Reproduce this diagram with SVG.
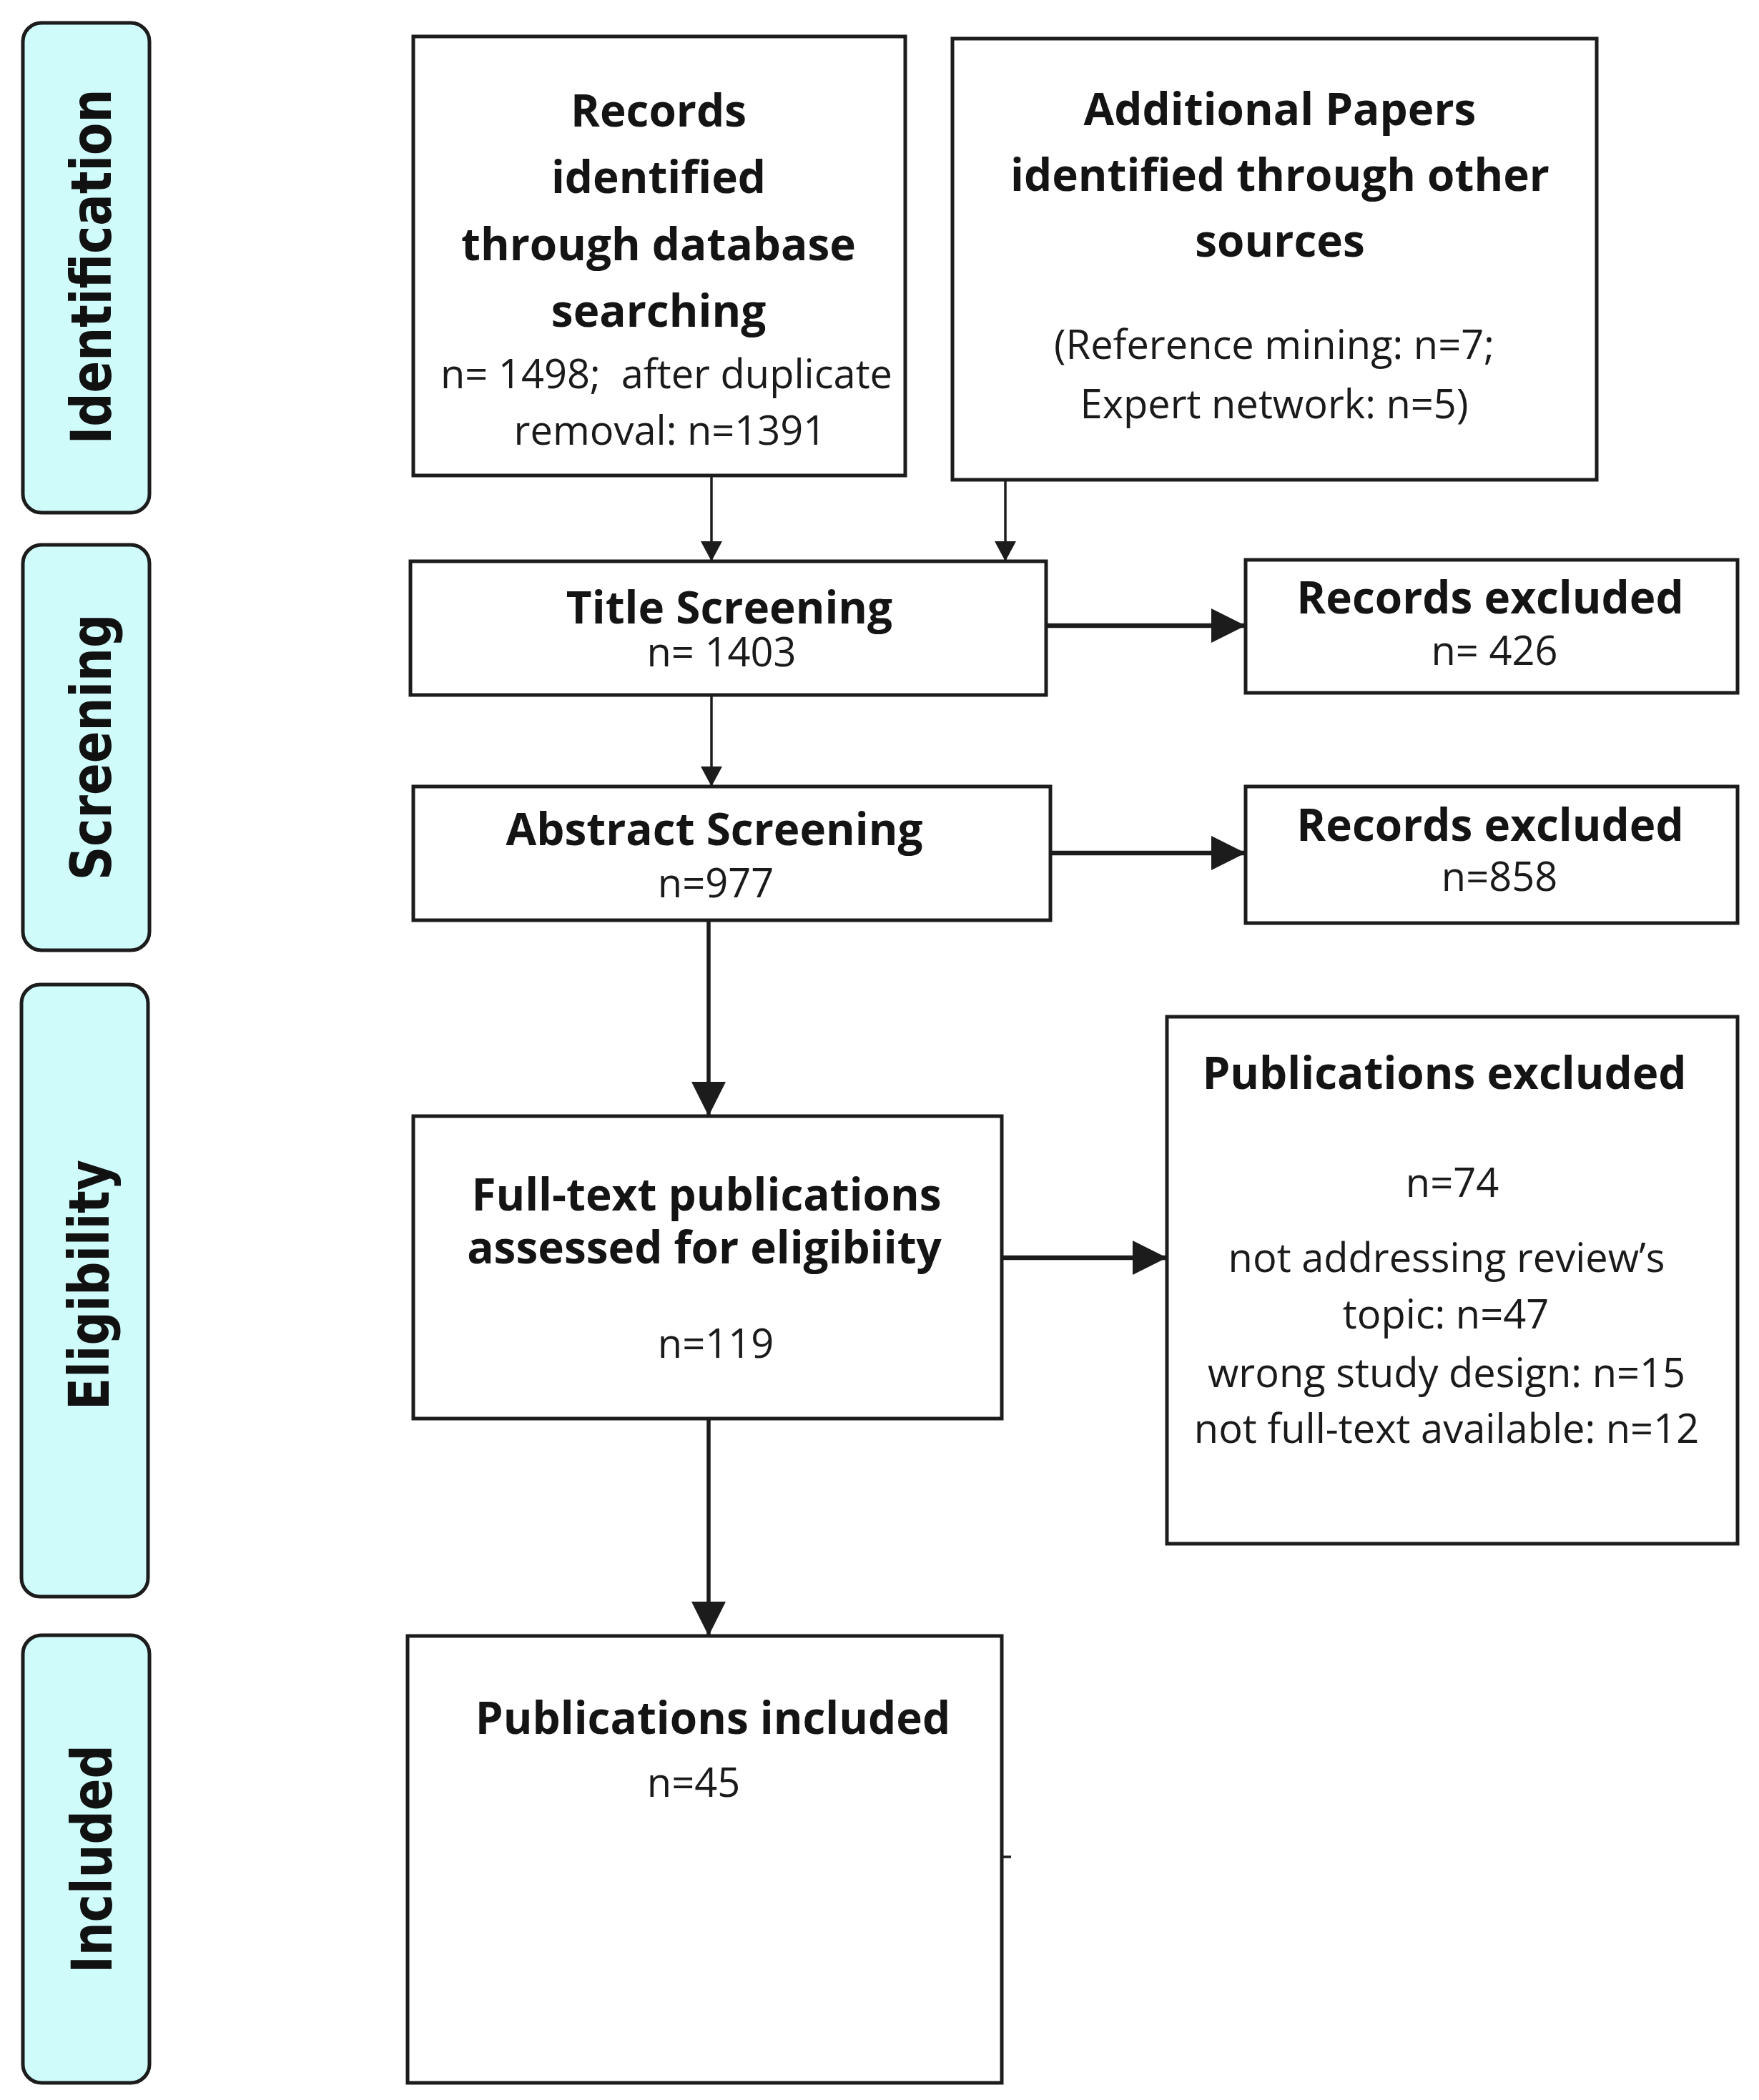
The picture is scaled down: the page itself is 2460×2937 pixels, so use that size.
<svg xmlns="http://www.w3.org/2000/svg" width="2460" height="2937" viewBox="0 0 2460 2937">
<defs>
<style>
.bar{fill:#cffbfb;stroke:#1c1c1c;stroke-width:5}
.box{fill:#ffffff;stroke:#1c1c1c;stroke-width:5}
.h{font-family:"Open Sans","Liberation Sans",sans-serif;font-weight:700;font-size:62px;fill:#141414;text-anchor:middle}
.r{font-family:"Open Sans","Liberation Sans",sans-serif;font-weight:400;font-size:56px;fill:#1a1a1a;text-anchor:middle}
.side{font-family:"DejaVu Sans",Verdana,sans-serif;font-weight:700;font-size:66px;fill:#111111;text-anchor:middle}
.thin{stroke:#1c1c1c;stroke-width:3.5;fill:none}
.thick{stroke:#1c1c1c;stroke-width:6.5;fill:none}
.mid{stroke:#1c1c1c;stroke-width:5.5;fill:none}
</style>
<marker id="aSmall" markerUnits="userSpaceOnUse" markerWidth="32" markerHeight="32" viewBox="0 0 28 32" refX="28" refY="16" orient="auto">
<path d="M0,1 L28,16 L0,31 Z" fill="#1c1c1c"/>
</marker>
<marker id="aBig" markerUnits="userSpaceOnUse" markerWidth="48" markerHeight="48" viewBox="0 0 46 46" refX="46" refY="23" orient="auto">
<path d="M0,0 L46,23 L0,46 Z" fill="#1c1c1c"/>
</marker>
</defs>
<rect width="2460" height="2937" fill="#ffffff"/>

<g id="phase-identification">
<rect class="bar" x="32" y="32" width="177" height="685" rx="26"/>
<text class="side" transform="translate(155,373) rotate(-90) scale(1,1.18)">Identification</text>
</g>
<g id="phase-screening">
<rect class="bar" x="32" y="762" width="177" height="567" rx="26"/>
<text class="side" transform="translate(155,1045) rotate(-90) scale(1,1.18)">Screening</text>
</g>
<g id="phase-eligibility">
<rect class="bar" x="30" y="1377" width="177" height="856" rx="26"/>
<text class="side" transform="translate(152,1797) rotate(-90) scale(1,1.18)">Eligibility</text>
</g>
<g id="phase-included">
<rect class="bar" x="32" y="2287" width="177" height="626" rx="26"/>
<text class="side" transform="translate(156,2600) rotate(-90) scale(1,1.18)">Included</text>
</g>

<g id="connectors">
<line class="thin" x1="995" y1="665" x2="995" y2="785" marker-end="url(#aSmall)"/>
<line class="thin" x1="1406" y1="671" x2="1406" y2="785" marker-end="url(#aSmall)"/>
<line class="thin" x1="995" y1="972" x2="995" y2="1100" marker-end="url(#aSmall)"/>
<line class="thick" x1="1463" y1="875" x2="1742" y2="875" marker-end="url(#aBig)"/>
<line class="thick" x1="1469" y1="1193" x2="1742" y2="1193" marker-end="url(#aBig)"/>
<line class="mid" x1="991" y1="1287" x2="991" y2="1561" marker-end="url(#aBig)"/>
<line class="thick" x1="1401" y1="1759" x2="1632" y2="1759" marker-end="url(#aBig)"/>
<line class="mid" x1="991" y1="1984" x2="991" y2="2288" marker-end="url(#aBig)"/>
<line class="thin" x1="1401" y1="2597" x2="1414" y2="2597"/>
</g>

<g id="records-identified">
<rect class="box" x="578" y="51" width="688" height="614"/>
<text class="h" x="921" y="177">Records</text>
<text class="h" x="921" y="270">identified</text>
<text class="h" x="921" y="364">through database</text>
<text class="h" x="921" y="457">searching</text>
<text class="r" x="932" y="543" xml:space="preserve">n= 1498;  after duplicate</text>
<text class="r" x="937" y="622">removal: n=1391</text>
</g>

<g id="additional-papers">
<rect class="box" x="1332" y="54" width="901" height="617"/>
<text class="h" x="1790" y="175">Additional Papers</text>
<text class="h" x="1790" y="267">identified through other</text>
<text class="h" x="1790" y="359">sources</text>
<text class="r" x="1782" y="502">(Reference mining: n=7;</text>
<text class="r" x="1782" y="585">Expert network: n=5)</text>
</g>

<g id="title-screening">
<rect class="box" x="574" y="785" width="889" height="187"/>
<text class="h" x="1020" y="872">Title Screening</text>
<text class="r" x="1009" y="932">n= 1403</text>
</g>

<g id="records-excluded-1">
<rect class="box" x="1742" y="783" width="688" height="186"/>
<text class="h" x="2084" y="858">Records excluded</text>
<text class="r" x="2090" y="930">n= 426</text>
</g>

<g id="abstract-screening">
<rect class="box" x="578" y="1100" width="891" height="187"/>
<text class="h" x="999" y="1182">Abstract Screening</text>
<text class="r" x="1001" y="1255">n=977</text>
</g>

<g id="records-excluded-2">
<rect class="box" x="1742" y="1100" width="688" height="191"/>
<text class="h" x="2084" y="1176">Records excluded</text>
<text class="r" x="2097" y="1246">n=858</text>
</g>

<g id="full-text">
<rect class="box" x="578" y="1561" width="823" height="423"/>
<text class="h" x="988" y="1693">Full-text publications</text>
<text class="h" x="985" y="1767">assessed for eligibiity</text>
<text class="r" x="1001" y="1899">n=119</text>
</g>

<g id="publications-excluded">
<rect class="box" x="1632" y="1422" width="798" height="737"/>
<text class="h" x="2020" y="1523">Publications excluded</text>
<text class="r" x="2031" y="1674">n=74</text>
<text class="r" x="2023" y="1779">not addressing review’s</text>
<text class="r" x="2022" y="1858">topic: n=47</text>
<text class="r" x="2023" y="1940">wrong study design: n=15</text>
<text class="r" x="2023" y="2018">not full-text available: n=12</text>
</g>

<g id="publications-included">
<rect class="box" x="570" y="2288" width="831" height="625"/>
<text class="h" x="997" y="2425">Publications included</text>
<text class="r" x="970" y="2513">n=45</text>
</g>
</svg>
